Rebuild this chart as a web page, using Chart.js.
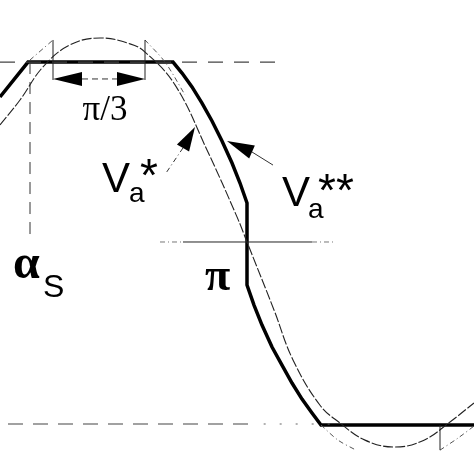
<!DOCTYPE html>
<html>
<head>
<meta charset="utf-8">
<script src="https://cdn.jsdelivr.net/npm/chart.js@4"></script>
<style>
html,body{margin:0;padding:0;background:#fff;}
#wrap{width:474px;height:474px;position:relative;}
</style>
</head>
<body>
<div id="wrap"><canvas id="c"></canvas></div>
<script>
// Electrical angle (degrees) and per-unit voltage
const sineDeg = [31.8, 43.8, 57.6, 73.8, 91.8, 109.8, 118.8, 136.8, 156, 174, 180, 196.2, 207.6, 223.8, 235.8, 250.8, 268.8, 286.2, 301.8, 316.2];
const sineVal = [0.574, 0.696, 0.858, 0.966, 1.0, 0.971, 0.931, 0.770, 0.451, 0.123, 0, -0.333, -0.578, -0.80, -0.887, -0.971, -1.005, -0.971, -0.882, -0.789];

const modDeg = [31.8, 48.6, 135.6, 141.0, 147.0, 153.0, 159.0, 165.0, 171.0, 175.8, 180, 180, 184.2, 189.0, 195.0, 201.0, 207.0, 213.0, 219.0, 224.4, 316.2];
const modVal = [0.711, 0.882, 0.882, 0.828, 0.760, 0.681, 0.593, 0.495, 0.387, 0.289, 0.191, -0.211, -0.309, -0.407, -0.515, -0.603, -0.691, -0.770, -0.838, -0.897, -0.897];

const aDeg = [49.8, 63.6];
const aVal = [0.892, 0.990];
const bDeg = [118.8, 130.8, 142.8];
const bVal = [0.990, 0.882, 0.721];
const cDeg = [224.4, 234.6, 245.4];
const cVal = [-0.897, -0.971, -1.020];
const dDeg = [295.8, 306.6, 316.2];
const dVal = [-1.020, -0.961, -0.902];

const clipLevel = 0.882;
const alphaS = 49.8;
const sixtyStart = 63.6, sixtyEnd = 118.8;

function pts(xs, ys){ return xs.map((x,i)=>({x:x, y:ys[i]})); }

const deco = {
  id:'deco',
  afterDatasetsDraw(chart){
    const ctx = chart.ctx, xs = chart.scales.x, ys = chart.scales.y;
    const X = v=>xs.getPixelForValue(v), Y = v=>ys.getPixelForValue(v);
    function line(x1,y1,x2,y2,dash,w,col){
      ctx.save(); ctx.beginPath(); ctx.setLineDash(dash||[]); ctx.lineWidth=w||1; ctx.strokeStyle=col||'#222';
      ctx.moveTo(X(x1),Y(y1)); ctx.lineTo(X(x2),Y(y2)); ctx.stroke(); ctx.restore();
    }
    function head(tx,ty,bx,by,hw){
      const x1=X(tx),y1=Y(ty),x2=X(bx),y2=Y(by);
      const dx=x2-x1, dy=y2-y1, L=Math.hypot(dx,dy), nx=-dy/L, ny=dx/L;
      ctx.save(); ctx.beginPath(); ctx.fillStyle='#000';
      ctx.moveTo(x1,y1); ctx.lineTo(x2+nx*hw,y2+ny*hw); ctx.lineTo(x2-nx*hw,y2-ny*hw); ctx.closePath(); ctx.fill(); ctx.restore();
    }
    function text(s,x,y,font,align){
      ctx.save(); ctx.font=font; ctx.fillStyle='#000'; ctx.textAlign=align||'left'; ctx.textBaseline='alphabetic';
      ctx.fillText(s,X(x),Y(y)); ctx.restore();
    }
    // clip level dashed lines
    line(31.8, clipLevel, 200, clipLevel, [15,11], 1.2, '#444');
    line(36.6, -0.892, 184.8, -0.892, [15,10], 1.2, '#444');
    line(190, -0.892, 231, -0.892, [2,14], 1.2, '#666');
    // zero line
    line(141.6, 0, 219, 0, [], 1, '#222');
    line(127.8, 0, 141.6, 0, [5,3,1,3], 1, '#777');
    line(219, 0, 231.6, 0, [5,3,1,3], 1, '#777');
    // alpha_s marker
    line(alphaS, clipLevel, alphaS, 0.01, [12,8], 1, '#333');
    // pi/3 ticks
    line(sixtyStart, 0.990, sixtyStart, 0.794, [], 1, '#222');
    line(sixtyEnd, 0.990, sixtyEnd, 0.794, [], 1, '#222');
    line(295.8, -0.897, 295.8, -1.020, [], 1, '#222');
    // dimension arrow
    line(81, 0.799, 102, 0.799, [6,4], 1, '#333');
    head(sixtyStart, 0.799, 81, 0.799, 7);
    head(sixtyEnd, 0.799, 102, 0.799, 7);
    // label arrows
    line(141.6, 0.461, 131.4, 0.338, [5,3,1,3], 1, '#333');
    head(148.8, 0.564, 141.6, 0.461, 7);
    line(183, 0.441, 195.6, 0.377, [], 1, '#333');
    head(168, 0.495, 183, 0.441, 7);
    // labels
    text('\u03C0/3', 94.8, 0.598, '35px "Liberation Serif"', 'center');
    text('V', 93.0, 0.245, '42px "Liberation Sans"');
    text('a', 109.2, 0.196, '28px "Liberation Sans"');
    text('*', 115.8, 0.250, '46px "Liberation Sans"');
    text('V', 201.0, 0.176, '42px "Liberation Sans"');
    text('a', 216.6, 0.118, '28px "Liberation Sans"');
    text('**', 222.6, 0.176, '46px "Liberation Sans"');
    text('\u03B1', 39.6, -0.176, 'bold 48px "Liberation Serif"');
    text('S', 57.6, -0.270, '32px "Liberation Sans"');
    text('\u03C0', 154.8, -0.235, 'bold 46px "Liberation Serif"');
  }
};

new Chart(document.getElementById('c'), {
  type:'scatter',
  data:{datasets:[
    {label:'Va*', data:pts(sineDeg,sineVal), showLine:true, borderColor:'#222', borderWidth:1.1, borderDash:[10,2], pointRadius:0, tension:0.4, fill:false},
    {label:'A', data:pts(aDeg,aVal), showLine:true, borderColor:'#555', borderWidth:1, borderDash:[5,3,1,3], pointRadius:0, tension:0.3},
    {label:'B', data:pts(bDeg,bVal), showLine:true, borderColor:'#555', borderWidth:1, borderDash:[5,3,1,3], pointRadius:0, tension:0.3},
    {label:'C', data:pts(cDeg,cVal), showLine:true, borderColor:'#555', borderWidth:1, borderDash:[5,3,1,3], pointRadius:0, tension:0.3},
    {label:'D', data:pts(dDeg,dVal), showLine:true, borderColor:'#555', borderWidth:1, borderDash:[5,3,1,3], pointRadius:0, tension:0.3},
    {label:'Va**', data:pts(modDeg,modVal), showLine:true, borderColor:'#000', borderWidth:3.5, pointRadius:0, tension:0, borderJoinStyle:'miter'}
  ]},
  options:{
    responsive:true, maintainAspectRatio:false, animation:false,
    layout:{padding:0},
    plugins:{legend:{display:false}, tooltip:{enabled:false}},
    scales:{
      x:{type:'linear', min:31.8, max:316.2, display:false},
      y:{type:'linear', min:-1.137, max:1.186, display:false}
    }
  },
  plugins:[deco]
});
</script>
</body>
</html>
